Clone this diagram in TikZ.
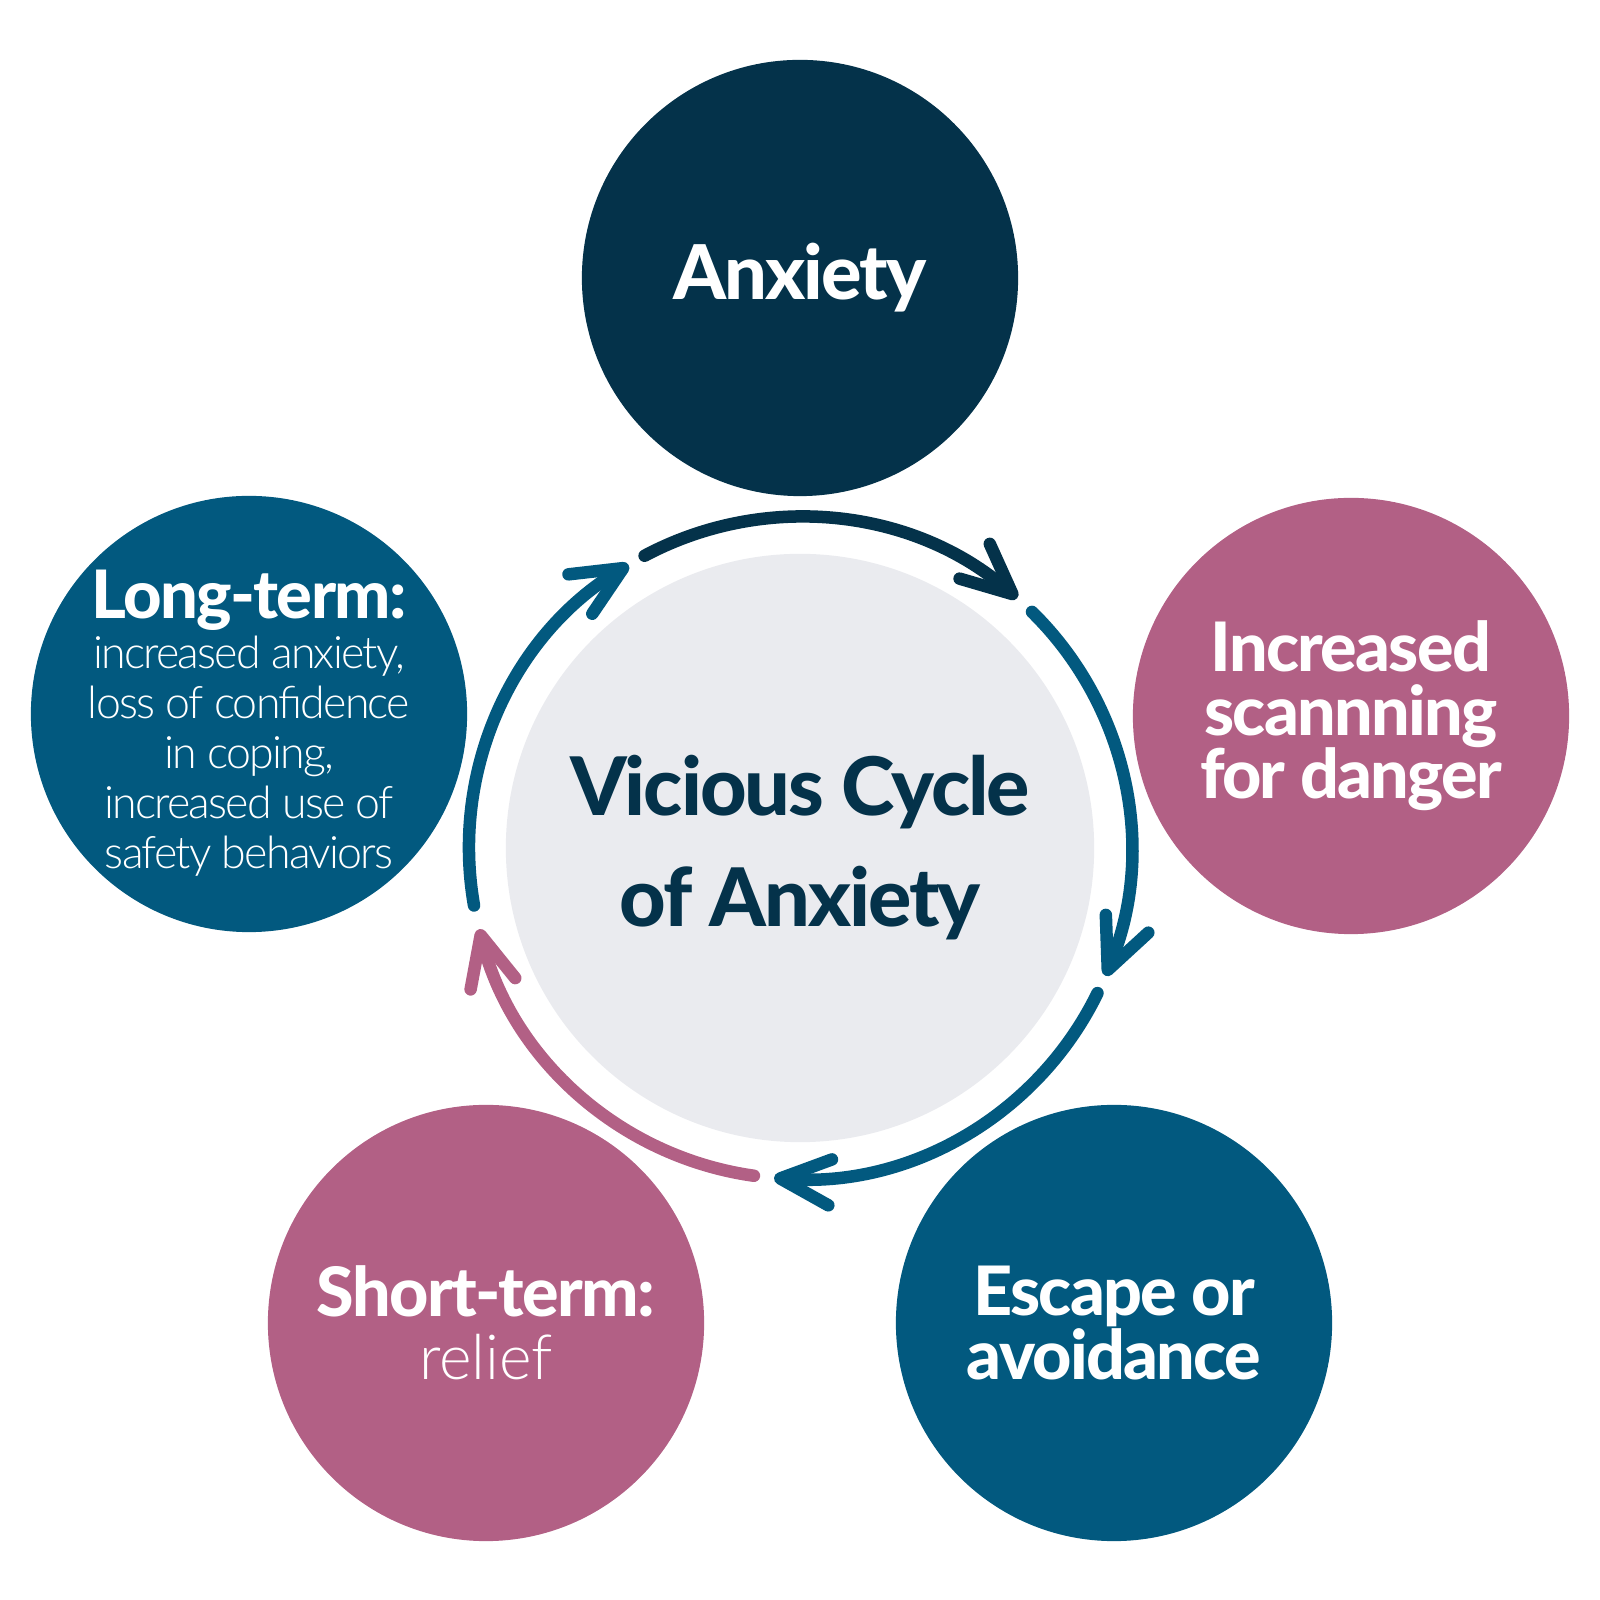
\documentclass[tikz,border=0pt]{standalone}
\usepackage{fontspec}
\setmainfont{Lato}
\newfontfamily\headfont[LetterSpace=-2.5]{Lato Heavy}
\newfontfamily\lightfont{Lato Light}
\newfontfamily\bodyfont[LetterSpace=-4]{Lato Light}
\usetikzlibrary{arrows.meta}

\definecolor{navy}{HTML}{04324A}
\definecolor{deepblue}{HTML}{02597F}
\definecolor{mauve}{HTML}{B26085}
\definecolor{mist}{HTML}{EAEBEF}

\begin{document}
\begin{tikzpicture}[
  x=0.01cm, y=0.01cm,
  bubble/.style={circle, minimum size=4.36cm, inner sep=0pt, text=white, align=center},
  bigtxt/.style={font=\headfont\fontsize{19.4}{18}\selectfont},
  cyc/.style={line width=0.125cm, line cap=round, -{Straight Barb[length=0.5cm, width=0.46cm, round]}}
]
\useasboundingbox (0,0) rectangle (1600,1600);

\node[circle, fill=mist, minimum size=5.88cm, inner sep=0pt, align=center, text=navy,
      font=\headfont\fontsize{23}{31.6}\selectfont] (mid) at (800,752) {Vicious Cycle\\of Anxiety};

\node[bubble, fill=navy, font=\headfont\fontsize{21.5}{24}\selectfont] (anx) at (800,1322) {Anxiety};
\node[bubble, fill=mauve, bigtxt] (scan) at (1351,884) {Increased\\scannning\\for danger};
\node[bubble, fill=deepblue, bigtxt] (esc) at (1114,277) {Escape or\\avoidance};
\node[bubble, fill=mauve, bigtxt] (short) at (486,277) {Short-term:\\{\lightfont\fontsize{17.7}{18}\selectfont relief}};
\node[bubble, fill=deepblue] (long) at (249,886) {};
\node[text=white, align=center, inner sep=0pt, font=\bodyfont\fontsize{12.7}{14.2}\selectfont] (longtxt) at ([yshift=-0.09cm]long.center)
  {{\headfont\fontsize{19}{18}\selectfont Long-term:}\\
   increased anxiety,\\loss of confidence\\in coping,\\increased use of\\safety behaviors};

% the cycle
\draw[cyc, navy] ([shift={(118:331)}]mid.center) arc[start angle=118, end angle=49, radius=331];
\draw[cyc, deepblue] ([shift={(45.5:331)}]mid.center) arc[start angle=45.5, end angle=-22.7, radius=331];
\draw[cyc, deepblue] ([shift={(-26:331)}]mid.center) arc[start angle=-26, end angle=-94.5, radius=331];
\draw[cyc, mauve] ([shift={(-98:331)}]mid.center) arc[start angle=-98, end angle=-165.8, radius=331];
\draw[cyc, deepblue] ([shift={(190:331)}]mid.center) arc[start angle=190, end angle=121.2, radius=331];
\end{tikzpicture}
\end{document}
